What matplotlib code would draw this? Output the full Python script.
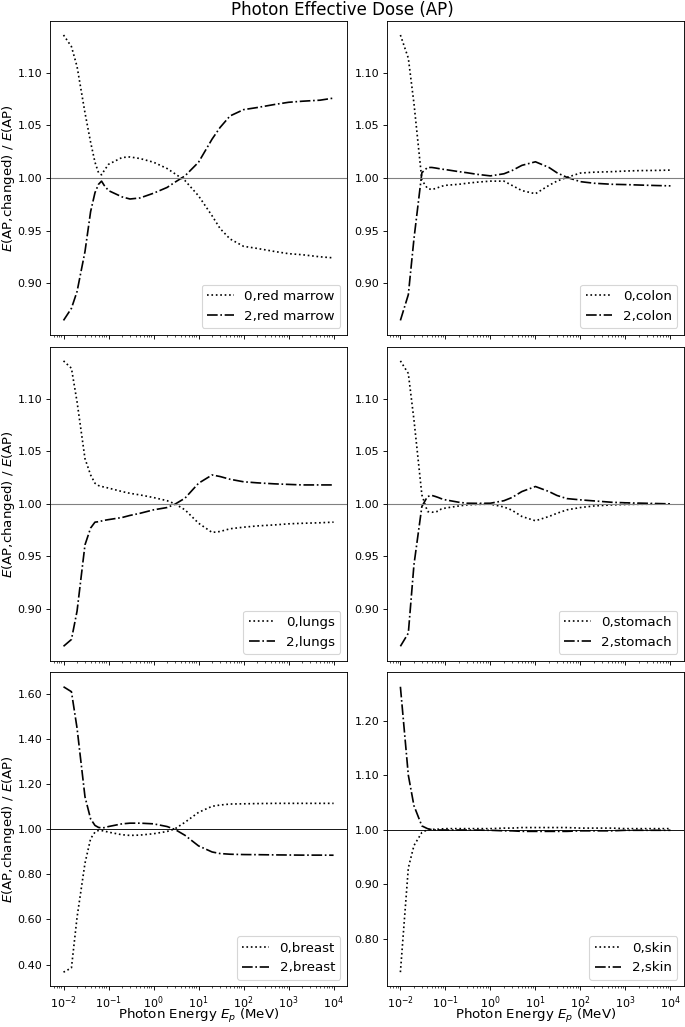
#! -*- coding: utf-8 -*-

#---------------------------------
# モジュールのインポート
#---------------------------------
import matplotlib
matplotlib.use('Agg')
import matplotlib.pyplot as plt
from matplotlib.ticker import FormatStrFormatter

#---------------------------------
# データ
#---------------------------------
energy = [0.01, 0.015, 0.02, 0.03, 0.04, 0.05, 0.06, 0.07, 0.08, 0.1, 0.2, 0.3, 0.5,
          1, 2, 3, 5, 10, 20, 30, 50, 100, 200, 500, 1000, 2000, 5000, 10000]

red_marrow_0 = [1.136, 1.125, 1.106, 1.062, 1.034, 1.015, 1.005, 1.003, 1.007, 1.013, 1.0195, 1.020, 1.0185,
                1.015, 1.009, 1.004, 0.9975, 0.983, 0.964, 0.952, 0.942, 0.935, 0.933, 0.930, 0.928, 0.927, 0.925, 0.924]
red_marrow_2 = [0.8645, 0.876, 0.892, 0.930, 0.968, 0.986, 0.994, 0.997, 0.993, 0.988, 0.982, 0.980, 0.981,
                0.9855, 0.991, 0.996, 1.002, 1.015, 1.037, 1.048, 1.059, 1.065, 1.067, 1.070, 1.072, 1.073, 1.074, 1.076]

colon_0 = [1.136, 1.114, 1.071, 0.998, 0.990, 0.989, 0.990, 0.991, 0.992, 0.993, 0.994, 0.995, 0.996,
           0.997, 0.997, 0.993, 0.988, 0.985, 0.993, 0.997, 1.0006, 1.0047, 1.0055, 1.006, 1.0066, 1.007, 1.0072, 1.0075]
colon_2 = [0.8645, 0.889, 0.942, 1.005, 1.010, 1.010, 1.0095, 1.009, 1.0085, 1.008, 1.006, 1.005, 1.0035,
           1.002, 1.004, 1.007, 1.012, 1.0154, 1.010, 1.005, 1.0006, 0.9965, 0.995, 0.994, 0.9937, 0.9933, 0.9928, 0.9925]

lungs_0 = [1.136, 1.129, 1.097, 1.043, 1.0275, 1.0196, 1.0174, 1.0165, 1.016, 1.015, 1.0117, 1.010, 1.0085,
           1.006, 1.003, 1.000, 0.9943, 0.9816, 0.9728, 0.9737, 0.9763, 0.9778, 0.979, 0.980, 0.981, 0.9815, 0.982, 0.9826]
lungs_2 = [0.8645, 0.871, 0.898, 0.961, 0.977, 0.9826, 0.983, 0.9837, 0.9843, 0.985, 0.987, 0.989, 0.991,
           0.9943, 0.9965, 0.9997, 1.0054, 1.0196, 1.0275, 1.026, 1.0234, 1.021, 1.020, 1.019, 1.0185, 1.018, 1.018, 1.018]

stomach_0 = [1.136, 1.124, 1.08, 1.0085, 0.9927, 0.992, 0.9925, 0.993, 0.995, 0.996, 0.998, 0.999, 0.9995,
             0.9997, 0.997, 0.994, 0.988, 0.9839, 0.988, 0.991, 0.9943, 0.9965, 0.998, 0.999, 0.9994, 0.9996, 0.9997, 0.9997]
stomach_2 = [0.8645, 0.877, 0.942, 0.9975, 1.007, 1.008, 1.007, 1.006, 1.005, 1.0038, 1.0015, 1.0006, 1.0005,
             1.0006, 1.003, 1.006, 1.0117, 1.0165, 1.0117, 1.008, 1.005, 1.0038, 1.0028, 1.0015, 1.001, 1.0007, 1.0003, 1.000]

breast_0 = [0.366, 0.385, 0.61, 0.85, 0.959, 0.988, 0.9956, 0.995, 0.993, 0.988, 0.9765, 0.9736, 0.975,
            0.981, 0.991, 1.003, 1.032, 1.076, 1.103, 1.1085, 1.113, 1.114, 1.115, 1.116, 1.116, 1.116, 1.116, 1.116]
breast_2 = [1.634, 1.612, 1.45, 1.145, 1.047, 1.018, 1.009, 1.007, 1.008, 1.013, 1.025, 1.028, 1.028,
            1.025, 1.013, 1.000, 0.974, 0.927, 0.900, 0.893, 0.890, 0.8885, 0.888, 0.887, 0.8865, 0.886, 0.886, 0.8856]

skin_0 = [0.739, 0.93, 0.971, 0.995, 1.000, 1.0005, 1.001, 1.001, 1.0015, 1.002, 1.002, 1.002, 1.002,
          1.002, 1.003, 1.003, 1.004, 1.004, 1.004, 1.004, 1.004, 1.003, 1.003, 1.003, 1.002, 1.002, 1.002, 1.002]
skin_2 = [1.262, 1.10, 1.044, 1.007, 1.002, 1.000, 0.9995, 0.9995, 0.9995, 0.9995, 0.9995, 0.9995, 0.9993,
          0.999, 0.998, 0.998, 0.997, 0.997, 0.997, 0.997, 0.997, 0.998, 0.998, 0.998, 0.999, 0.999, 0.999, 0.999]

organs = ['red marrow', 'colon', 'lungs', 'stomach', 'breast', 'skin']
series_0 = [red_marrow_0, colon_0, lungs_0, stomach_0, breast_0, skin_0]
series_2 = [red_marrow_2, colon_2, lungs_2, stomach_2, breast_2, skin_2]

#---------------------------------
# メイン処理
#---------------------------------
def main():
	# --- 80dpi で 685x1027 ---
	fig, axes = plt.subplots(3, 2, figsize=(685 / 80, 1027 / 80), sharex=True)
	fig.subplots_adjust(left=0.073, right=0.9985, top=0.9798, bottom=0.0395, hspace=0.038, wspace=0.134)

	for i, ax in enumerate(axes.flat):
		ax.plot(energy, series_0[i], color='k', linestyle=':', label='0,{}'.format(organs[i]))
		ax.plot(energy, series_2[i], color='k', linestyle='-.', label='2,{}'.format(organs[i]))
		# --- 基準線 (下段だけ黒) ---
		if i >= 4:
			ax.axhline(1.0, color='k', linewidth=0.8)
		else:
			ax.axhline(1.0, color='gray', linewidth=1.0)
		ax.set_xscale('log')
		ax.yaxis.set_major_formatter(FormatStrFormatter('%.2f'))
		ax.tick_params(labelsize=10)
		ax.legend(loc='lower right', fontsize=12)
		if i % 2 == 0:
			ax.set_ylabel('$E$(AP,changed) / $E$(AP)', fontsize=12)
			ax.yaxis.set_label_coords(-0.111, 0.5)
		if i >= 4:
			ax.set_xlabel('Photon Energy $E_p$ (MeV)', fontsize=12)
			ax.xaxis.set_label_coords(0.5, -0.066)

	axes[0, 0].set_xticks([1e-2, 1e-1, 1e0, 1e1, 1e2, 1e3, 1e4])
	fig.suptitle('Photon Effective Dose (AP)', fontsize=15, y=0.999)
	plt.savefig('out.png', dpi=80)
	plt.close()

	return

if __name__ == '__main__':
	main()
